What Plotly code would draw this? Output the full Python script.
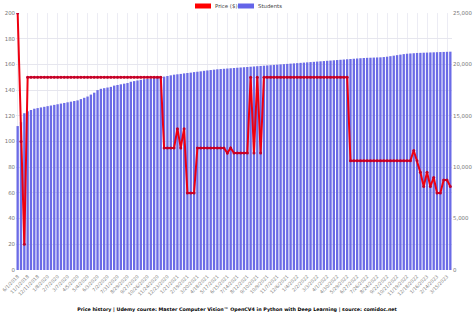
import plotly.graph_objects as go

dates = [
    "6/1/2018", "8/15/2018", "10/2/2018", "11/1/2018", "11/12/2018", "11/26/2018", "12/11/2018", "2/20/2019", "9/14/2019",
    "1/8/2020", "1/18/2020", "1/28/2020", "2/7/2020", "2/17/2020", "2/27/2020", "3/7/2020", "3/17/2020", "3/27/2020",
    "4/5/2020", "4/15/2020", "4/25/2020", "5/4/2020", "5/14/2020", "5/24/2020", "6/3/2020", "6/13/2020", "6/23/2020",
    "7/2/2020", "7/12/2020", "7/22/2020", "7/31/2020", "8/10/2020", "8/20/2020", "8/29/2020", "9/8/2020", "9/18/2020",
    "9/27/2020", "10/7/2020", "10/17/2020", "10/26/2020", "11/5/2020", "11/15/2020", "11/24/2020", "12/4/2020", "12/14/2020",
    "12/23/2020", "1/2/2021", "1/12/2021", "1/21/2021", "1/31/2021", "2/10/2021", "2/19/2021", "3/1/2021", "3/11/2021",
    "3/20/2021", "3/30/2021", "4/9/2021", "4/18/2021", "4/28/2021", "5/8/2021", "5/17/2021", "5/27/2021", "6/6/2021",
    "6/15/2021", "6/25/2021", "7/5/2021", "7/14/2021", "7/24/2021", "8/3/2021", "8/12/2021", "8/22/2021", "9/1/2021",
    "9/10/2021", "9/20/2021", "9/30/2021", "10/9/2021", "10/19/2021", "10/29/2021", "11/7/2021", "11/17/2021", "11/27/2021",
    "12/6/2021", "12/16/2021", "12/26/2021", "1/4/2022", "1/14/2022", "1/24/2022", "2/2/2022", "2/12/2022", "2/22/2022",
    "3/3/2022", "3/13/2022", "3/23/2022", "4/1/2022", "4/11/2022", "4/21/2022", "4/30/2022", "5/10/2022", "5/20/2022",
    "5/29/2022", "6/8/2022", "6/18/2022", "6/27/2022", "7/7/2022", "7/17/2022", "7/26/2022", "8/5/2022", "8/15/2022",
    "8/24/2022", "9/3/2022", "9/13/2022", "9/22/2022", "10/2/2022", "10/12/2022", "10/21/2022", "10/31/2022", "11/10/2022",
    "11/19/2022", "11/29/2022", "12/9/2022", "12/18/2022", "12/28/2022", "1/7/2023", "1/16/2023", "1/26/2023", "2/5/2023",
    "2/14/2023", "2/24/2023", "3/6/2023", "3/15/2023", "3/25/2023",
]

students = [
    14000, 14375, 15250, 15438, 15563, 15688, 15750, 15813, 15875, 15938,
    16000, 16063, 16125, 16188, 16250, 16313, 16375, 16438, 16500, 16625,
    16750, 16875, 17063, 17250, 17500, 17625, 17688, 17750, 17813, 17938,
    18000, 18063, 18125, 18188, 18313, 18375, 18438, 18500, 18563, 18588,
    18625, 18663, 18700, 18738, 18813, 18875, 18938, 19000, 19038, 19075,
    19125, 19163, 19200, 19250, 19288, 19325, 19375, 19413, 19450, 19488,
    19525, 19550, 19575, 19600, 19625, 19650, 19675, 19700, 19725, 19750,
    19775, 19800, 19825, 19850, 19875, 19900, 19925, 19950, 19975, 20000,
    20025, 20050, 20075, 20100, 20125, 20150, 20175, 20200, 20225, 20250,
    20275, 20300, 20325, 20350, 20375, 20400, 20425, 20450, 20475, 20500,
    20525, 20550, 20575, 20600, 20625, 20638, 20650, 20663, 20675, 20688,
    20713, 20750, 20800, 20850, 20900, 20950, 21000, 21038, 21063, 21088,
    21113, 21125, 21138, 21150, 21163, 21175, 21188, 21200, 21213, 21225,
    21238,
]

price = [
    199.99, 99.99, 19.99,
    149.99, 149.99, 149.99, 149.99, 149.99, 149.99, 149.99, 149.99, 149.99, 149.99,
    149.99, 149.99, 149.99, 149.99, 149.99, 149.99, 149.99, 149.99, 149.99, 149.99,
    149.99, 149.99, 149.99, 149.99, 149.99, 149.99, 149.99, 149.99, 149.99, 149.99,
    149.99, 149.99, 149.99, 149.99, 149.99, 149.99, 149.99, 149.99, 149.99, 149.99,
    149.99,
    94.99, 94.99, 94.99, 94.99,
    109.99, 94.99, 109.99,
    59.99, 59.99, 59.99,
    94.99, 94.99, 94.99, 94.99, 94.99, 94.99, 94.99, 94.99, 94.99,
    90.99, 94.99,
    90.99, 90.99, 90.99, 90.99, 90.99,
    149.99, 90.99, 149.99, 90.99,
    149.99, 149.99, 149.99, 149.99, 149.99, 149.99, 149.99, 149.99, 149.99, 149.99,
    149.99, 149.99, 149.99, 149.99, 149.99, 149.99, 149.99, 149.99, 149.99, 149.99,
    149.99, 149.99, 149.99, 149.99, 149.99, 149.99,
    84.99, 84.99, 84.99, 84.99, 84.99, 84.99, 84.99, 84.99, 84.99, 84.99,
    84.99, 84.99, 84.99, 84.99, 84.99, 84.99, 84.99, 84.99, 84.99,
    92.99, 84.99, 75.99, 64.99, 75.99, 64.99, 71.99, 59.99, 59.99, 69.99, 69.99, 64.99,
]

tick_labels = dates[::3]
legend_names = ["Price ($)", "Students"]

title_text = ("Price history | Udemy course: Master Computer Vision\u2122 OpenCV4 in Python with Deep Learning"
              " | source: comidoc.net")

FONT = "DejaVu Sans"
BAR_COLOR = "#6b6be6"
LINE_COLOR = "#ee0010"
LEGEND_COLORS = ["#ff0000", "#6464e8"]
TICK_FONT = dict(family=FONT, size=5.4, color="#777777")
XTICK_FONT = dict(family=FONT, size=4.7, color="#808080")

W, H = 474.0, 316.0
ML, MR, MT, MB = 16, 22, 13, 46

fig = go.Figure()

fig.add_trace(go.Bar(
    x=dates, y=students, name=legend_names[1], marker=dict(color=BAR_COLOR, line=dict(width=0)),
    yaxis="y", showlegend=False,
))
fig.add_trace(go.Scatter(
    x=dates, y=price, name=legend_names[0], mode="lines+markers",
    line=dict(color=LINE_COLOR, width=2), marker=dict(size=3, color="#c0002a"),
    yaxis="y2", showlegend=False,
))

fig.update_layout(
    width=int(W), height=int(H),
    margin=dict(l=ML, r=MR, t=MT, b=MB, autoexpand=False),
    paper_bgcolor="white", plot_bgcolor="white",
    barmode="overlay", bargap=0.3,
    showlegend=False,
    font=dict(family=FONT, size=6, color="#666666"),
    xaxis=dict(type="category", tickmode="array", tickvals=tick_labels, ticktext=tick_labels,
               range=[-0.5, len(dates) - 0.5], ticklabelstandoff=2,
               tickangle=-45, tickfont=XTICK_FONT, showgrid=True, automargin=False,
               gridcolor="#ececf4", gridwidth=1, ticks="", zeroline=False, showline=False),
    yaxis=dict(side="right", range=[0, 25000], dtick=5000, tickformat=",d", automargin=False,
               tickfont=TICK_FONT, showgrid=False, zeroline=False,
               showline=False, ticks=""),
    yaxis2=dict(side="left", overlaying="y", range=[0, 200], dtick=20, automargin=False,
                tickfont=TICK_FONT, showgrid=True, gridcolor="#e6e6ee",
                zeroline=False, showline=False, ticks=""),
    title=dict(text="<b>" + title_text + "</b>", x=0.5, xanchor="center",
               yref="container", y=0.022, yanchor="middle",
               font=dict(family=FONT, size=4.8, color="#000000")),
)

plot_w = W - ML - MR
plot_h = H - MT - MB
def px_x(p):
    return (p - ML) / plot_w
def px_y(p):
    return (H - MB - p) / plot_h

legend_items = [(195.0, 213.0), (238.0, 256.0)]  # swatch left px, text left px
for (sx, tx), name, col in zip(legend_items, legend_names, LEGEND_COLORS):
    fig.add_shape(type="rect", xref="paper", yref="paper",
                  x0=px_x(sx), x1=px_x(sx + 16), y0=px_y(8.5), y1=px_y(3.5),
                  line=dict(width=0), fillcolor=col, layer="above")
    fig.add_annotation(x=px_x(tx), y=px_y(6), xref="paper", yref="paper",
                       text=name, showarrow=False, xanchor="left", yanchor="middle",
                       font=dict(family=FONT, size=5.4, color="#444444"))

fig.write_html("out.html")
